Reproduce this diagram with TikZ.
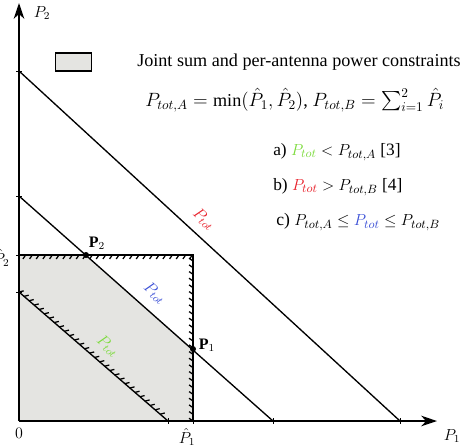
\documentclass[tikz,border=0pt]{standalone}
\usepackage{amsmath}
\usepackage{fontspec}
\setmainfont{Liberation Serif}
\usetikzlibrary{arrows.meta, decorations.pathreplacing}
\definecolor{regiongray}{HTML}{E4E4E1}
\definecolor{ptgreen}{HTML}{7CDB3C}
\definecolor{ptred}{HTML}{E8202A}
\definecolor{ptblue}{HTML}{3A4FD6}

\begin{document}
\begin{tikzpicture}[
    x=0.75pt, y=-0.75pt,
    font=\fontsize{12}{14}\selectfont,
    axis/.style={line width=1pt, -{Stealth[length=12pt, width=8pt]}},
    bound/.style={line width=1pt},
    hatch/.style={decorate, decoration={border, mirror, segment length=5pt,
                  amplitude=3.6pt, angle=-55}, line width=0.95pt},
    tickmark/.style={line width=0.6pt},
    dot/.style={circle, fill=black, inner sep=0pt, minimum size=4.5pt},
    lbl/.style={inner sep=1pt},
    legbox/.style={draw, fill=regiongray, line width=0.8pt,
                   minimum width=27.5pt, minimum height=13.5pt},
    txt/.style={anchor=west, inner sep=0pt}]

  \useasboundingbox (0,0) rectangle (474,447);

  % ---- key points ----
  \coordinate (O)   at (19,421);
  \coordinate (yax) at (19,3);
  \coordinate (xax) at (437,421);
  \coordinate (Q1)  at (193,421);   % \hat P_1 on the axis
  \coordinate (Q2)  at (19,255);    % \hat P_2 on the axis
  \coordinate (C)   at (193,255);   % corner of the box
  \coordinate (gA)  at (19,292);
  \coordinate (gB)  at (168,421);
  \coordinate (bA)  at (19,196);
  \coordinate (bB)  at (273,421);
  \coordinate (rA)  at (19,71);
  \coordinate (rB)  at (400,421);
  \coordinate (P2)  at (86,255);
  \coordinate (P1)  at (193,349);

  % ---- feasible region ----
  \fill[regiongray] (O) -- (Q2) -- (P2) -- (P1) -- (Q1) -- cycle;

  % ---- axes ----
  \draw[axis] (O) -- (yax);
  \draw[axis] (O) -- (xax);

  % ---- per-antenna box, hatched inside ----
  \draw[bound] (Q1) -- (C) -- (Q2);
  \draw[hatch] (Q1) -- (C) -- (Q2);

  % ---- sum power lines ----
  \draw[bound] (gA) -- (gB);
  \draw[hatch] (gA) -- (gB);
  \draw[bound] (bA) -- (bB);
  \draw[bound] (rA) -- (rB);

  % ---- ticks ----
  \foreach \p in {gB, Q1, bB, rB}
    \draw[tickmark] (\p) ++(0,-3) -- ++(0,6);
  \foreach \p in {gA, Q2, bA, rA}
    \draw[tickmark] (\p) ++(-3,0) -- ++(6,0);

  \node[dot] (d2) at (P2) {};
  \node[dot] (d1) at (P1) {};
  \node[lbl] (l2) at (97,243) {$\mathbf{P}_2$};
  \node[lbl] (l1) at (207,345) {$\mathbf{P}_1$};

  % ---- axis labels ----
  \node[lbl] (ylab) at (42,13)  {$P_2$};
  \node[lbl] (xlab) at (452,436) {$P_1$};
  \node[lbl] (zero) at (19,433)  {$0$};
  \node[lbl] (h1)   at (187,437) {$\hat{P}_1$};
  \node[lbl, anchor=east] (h2) at (11,258) {$\hat{P}_2$};

  % ---- line labels ----
  \node[lbl, text=ptred,   rotate=-42] (tr) at (204,219) {$P_{tot}$};
  \node[lbl, text=ptblue,  rotate=-41] (tb) at (155,293) {$P_{tot}$};
  \node[lbl, text=ptgreen, rotate=-41] (tg) at (108,346) {$P_{tot}$};

  % ---- legend ----
  \node[legbox] (leg) at (73.5,62) {};
  \node[txt, font=\fontsize{13.6}{16}\selectfont] (ltxt) at (137,62)
       {Joint sum and per-antenna power constraints};
  \node[txt, font=\fontsize{13.6}{16}\selectfont] (eq) at (145,100)
       {$P_{tot,A}=\min(\hat{P}_1,\hat{P}_2)$, $P_{tot,B}=\sum_{i=1}^{2}\hat{P}_i$};
  \node[txt, font=\fontsize{13}{15}\selectfont] (ca) at (273,152)
       {a) $\textcolor{ptgreen}{P_{tot}} < P_{tot,A}$ [3]};
  \node[txt, font=\fontsize{13}{15}\selectfont] (cb) at (273,187)
       {b) $\textcolor{ptred}{P_{tot}} > P_{tot,B}$ [4]};
  \node[txt, font=\fontsize{13.2}{15}\selectfont] (cc) at (276,222)
       {c) $P_{tot,A}\leq \textcolor{ptblue}{P_{tot}} \leq P_{tot,B}$};
\end{tikzpicture}
\end{document}
